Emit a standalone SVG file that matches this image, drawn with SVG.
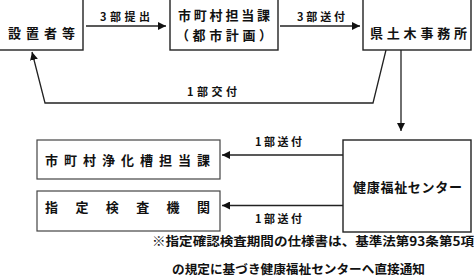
<svg xmlns="http://www.w3.org/2000/svg" width="474" height="277" viewBox="0 0 474 277">
<defs>
<style>
.box{fill:#fff;stroke:#222;stroke-width:1.4}
.box2{fill:#fff;stroke:#444;stroke-width:1.2}
.t{font-family:"Noto Sans CJK JP","Noto Sans",sans-serif;font-weight:bold;fill:#111;font-size:13px}
.lbl{font-family:"Noto Sans CJK JP","Noto Sans",sans-serif;font-weight:bold;fill:#111;font-size:11px}
.note{font-family:"Noto Sans CJK JP","Noto Sans",sans-serif;font-weight:bold;fill:#111;font-size:12.5px}
.ln{fill:none;stroke:#222;stroke-width:1.3}
</style>
<marker id="ah" viewBox="0 0 10 10" refX="10" refY="5" markerWidth="8" markerHeight="8" markerUnits="userSpaceOnUse" orient="auto">
<path d="M0,0L10,5L0,10z" fill="#111"/>
</marker>
</defs>
<rect width="474" height="277" fill="#fff"/>
<g id="connectors">
<line class="ln" x1="86" y1="26" x2="166" y2="26" marker-end="url(#ah)"/>
<line class="ln" x1="280" y1="26" x2="360" y2="26" marker-end="url(#ah)"/>
<polyline class="ln" points="386,50 373,103 45,103 32,52" marker-end="url(#ah)"/>
<line class="ln" x1="401" y1="50" x2="401" y2="131" marker-end="url(#ah)"/>
<line class="ln" x1="343" y1="155" x2="222" y2="155" marker-end="url(#ah)"/>
<line class="ln" x1="343" y1="205.5" x2="222" y2="205.5" marker-end="url(#ah)"/>
<text class="lbl" x="100" y="21" textLength="50" lengthAdjust="spacing">3部提出</text>
<text class="lbl" x="297" y="21" textLength="48" lengthAdjust="spacing">3部送付</text>
<text class="lbl" x="187" y="96" textLength="50" lengthAdjust="spacing">1部交付</text>
<text class="lbl" x="255" y="146" textLength="47" lengthAdjust="spacing">1部送付</text>
<text class="lbl" x="255" y="223" textLength="47" lengthAdjust="spacing">1部送付</text>
</g>
<g id="n1">
<rect class="box" x="-2" y="-2" width="85" height="52"/>
<text class="t" x="8" y="38" textLength="67" lengthAdjust="spacing">設置者等</text>
</g>
<g id="n2">
<rect class="box" x="170" y="-2" width="108" height="52"/>
<text class="t" x="178" y="20" textLength="92" lengthAdjust="spacing">市町村担当課</text>
<text class="t" x="176" y="40" textLength="96" lengthAdjust="spacing">（都市計画）</text>
</g>
<g id="n3">
<rect class="box" x="363" y="-2" width="108" height="52"/>
<text class="t" x="370" y="38" textLength="97" lengthAdjust="spacing">県土木事務所</text>
</g>
<g id="n4">
<rect class="box" x="343" y="140" width="128" height="92"/>
<text class="t" x="353" y="192" textLength="109" lengthAdjust="spacing">健康福祉センター</text>
</g>
<g id="n5">
<rect class="box2" x="37" y="140" width="183" height="39"/>
<text class="t" x="45" y="165" textLength="165" lengthAdjust="spacing">市町村浄化槽担当課</text>
</g>
<g id="n6">
<rect class="box2" x="37" y="191" width="183" height="40"/>
<text class="t" x="45" y="212" textLength="165" lengthAdjust="spacing">指定検査機関</text>
</g>
<g id="note">
<text class="note" x="152" y="246" textLength="322" lengthAdjust="spacingAndGlyphs">※指定確認検査期間の仕様書は、基準法第93条第5項</text>
<text class="note" x="172" y="274" textLength="253" lengthAdjust="spacingAndGlyphs">の規定に基づき健康福祉センターへ直接通知</text>
</g>
</svg>
